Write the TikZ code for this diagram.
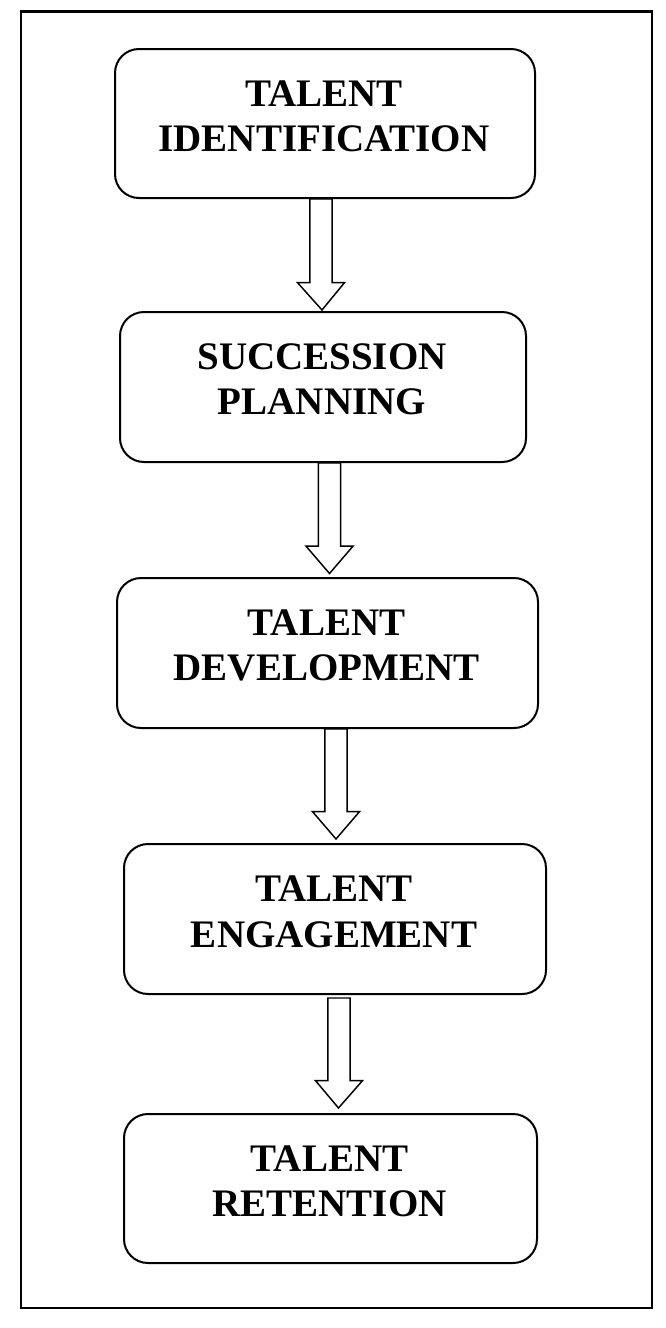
\documentclass[tikz,border=0pt]{standalone}
\usepackage{fontspec}
\setmainfont{Liberation Serif}
\usetikzlibrary{calc}
\tikzset{
  box/.style={draw, line width=1.5pt, rounded corners=18pt, inner sep=0pt},
  lbl/.style={anchor=base, inner sep=0pt, font=\fontsize{29.25pt}{33.75pt}\selectfont\bfseries},
  blk/.style={draw, line width=1.1pt, line join=miter},
}
\newcommand{\blockarrow}[2]{%
  \draw[blk] let \p1=(#1), \p2=(#2) in
    (\x1-8.4pt,\y1) -- (\x1-8.4pt,\y2+20.5pt) -- (\x1-17.6pt,\y2+20.5pt) --
    (\x2,\y2) -- (\x1+17.6pt,\y2+20.5pt) -- (\x1+8.4pt,\y2+20.5pt) --
    (\x1+8.4pt,\y1) -- cycle;}
\begin{document}
\begin{tikzpicture}[x=0.75pt, y=-0.75pt]
\useasboundingbox (0,0) rectangle (666,1328);
\draw[line width=2pt] (21,11.5) rectangle (652,1308);

\node[box, minimum width=315pt, minimum height=111.75pt] (b1) at (325,123.5) {};
\node[box, minimum width=304.5pt, minimum height=112.5pt] (b2) at (323,387) {};
\node[box, minimum width=315.75pt, minimum height=112.5pt] (b3) at (327.5,653) {};
\node[box, minimum width=316.5pt, minimum height=112.5pt] (b4) at (335,919) {};
\node[box, minimum width=309.75pt, minimum height=111.75pt] (b5) at (330.5,1188.5) {};

\node[lbl] (t1a) at ($(b1.north)+(-1,58)$) {TALENT};
\node[lbl] (t1b) at ($(b1.north)+(-1,103)$) {IDENTIFICATION};
\node[lbl] (t2a) at ($(b2.north)+(-1,58)$) {SUCCESSION};
\node[lbl] (t2b) at ($(b2.north)+(-1,103)$) {PLANNING};
\node[lbl] (t3a) at ($(b3.north)+(-1,58)$) {TALENT};
\node[lbl] (t3b) at ($(b3.north)+(-1,103)$) {DEVELOPMENT};
\node[lbl] (t4a) at ($(b4.north)+(-1,58)$) {TALENT};
\node[lbl] (t4b) at ($(b4.north)+(-1,104)$) {ENGAGEMENT};
\node[lbl] (t5a) at ($(b5.north)+(-1,58)$) {TALENT};
\node[lbl] (t5b) at ($(b5.north)+(-1,103)$) {RETENTION};

\coordinate (a1s) at ($(b1.south)+(-4,0)$);
\coordinate (a1e) at ($(b2.north)+(-1,-1)$);
\coordinate (a2s) at ($(b2.south)+(6.5,0)$);
\coordinate (a2e) at ($(b3.north)+(2,-3.5)$);
\coordinate (a3s) at ($(b3.south)+(8.5,0)$);
\coordinate (a3e) at ($(b4.north)+(1,-4)$);
\coordinate (a4s) at ($(b4.south)+(4,3)$);
\coordinate (a4e) at ($(b5.north)+(8,-5)$);

\blockarrow{a1s}{a1e}
\blockarrow{a2s}{a2e}
\blockarrow{a3s}{a3e}
\blockarrow{a4s}{a4e}
\end{tikzpicture}
\end{document}
